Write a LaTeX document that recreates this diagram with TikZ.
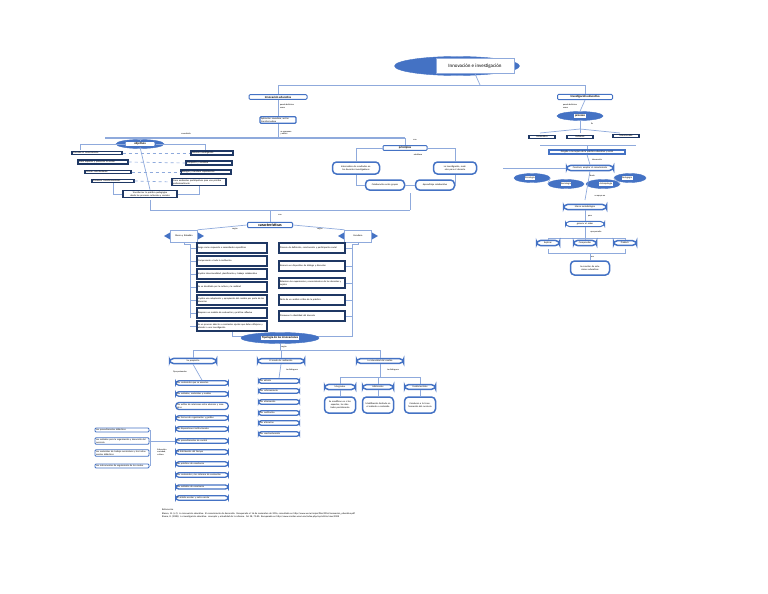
\documentclass[tikz,border=0pt]{standalone}
\usepackage{fontspec}
\setmainfont{Carlito}
\usetikzlibrary{shapes.geometric,positioning}
\definecolor{bl}{HTML}{4472C4}
\definecolor{nv}{HTML}{1F3864}
\definecolor{ln}{HTML}{8FAADC}
\tikzset{
 tx/.style={font=\fontsize{2.4}{2.8}\selectfont,align=left},
 lbl/.style={font=\fontsize{2.2}{2.6}\selectfont,align=left,inner sep=0pt},
 bx/.style={tx,draw=bl,line width=0.8pt,fill=white,rounded corners=1pt,inner sep=1pt,text width=#1},
 bx/.default=50pt,
 dbx/.style={tx,draw=nv,line width=1.2pt,fill=white,inner sep=1pt,text width=#1},
 dbx/.default=50pt,
 rbx/.style={tx,draw=bl,line width=1.5pt,fill=white,rounded corners=4pt,inner sep=1.5pt,text width=#1,align=center},
 rbx/.default=40pt,
 el/.style={ellipse,fill=bl,draw=bl,minimum width=#1,minimum height=9pt,inner sep=0pt},
 el/.default=40pt,
 hd/.style={tx,font=\fontsize{3}{3.5}\selectfont\bfseries,draw=bl,line width=1pt,fill=white,inner sep=1.2pt,rounded corners=1pt},
 cn/.style={draw=ln,line width=0.7pt},
}
\begin{document}
\begin{tikzpicture}[x=1pt,y=-1pt]
\useasboundingbox (0,0) rectangle (768,594);
% ---------- Title
\node[el=125pt,minimum height=19pt] (te) at (457,66) {};
\node[tx,font=\fontsize{5}{6}\selectfont,fill=white,minimum width=78pt,minimum height=15pt,draw=ln] (title) at (475,66) {Innovación e investigación};
\coordinate (tj) at (480,85);
\draw[cn] (title.south) -- (tj);
\draw[cn] (278,85) -- (585,85);
% ---------- Innovación educativa
\node[hd,minimum width=58pt] (ie) at (278,97) {Innovación educativa};
\draw[cn] (278,85) -- (ie.north);
\node[lbl] (l1) at (287,106) {puede definirse\\como};
\node[bx=34pt,line width=1.2pt] (ap) at (278,120) {Aplicación novedosa, acción transformadora};
\draw[cn] (ie.south) -- (ap.north);
\node[lbl] (l2) at (286,133) {se compone\\y utiliza};
\draw[cn] (ap.south) -- (278,138);
\draw[cn,line width=1.2pt] (105,138) -- (405,138);
\node[lbl] (l3) at (186,134) {concebida};
\node[lbl] (l4) at (415,140) {son};
% ---------- objetivos
\node[el=48pt] (obe) at (140,144) {};
\node[hd,minimum width=30pt] (ob) at (140,144) {objetivos};
\draw[cn] (140,138) -- (ob.north);
\draw[cn] (ob.west) -- (80,144) -- (80,150);
\draw[cn] (ob.east) -- (205,144) -- (205,150);
\node[dbx=48pt] (o1) at (97,153) {Concebir el conocimiento};
\node[dbx=48pt] (o2) at (103,162) {Crear espacios y potenciar la acción};
\node[dbx=44pt] (o3) at (108,172) {Formar colectividades};
\node[dbx=40pt] (o4) at (113,181) {Promover transformaciones};
\node[dbx=40pt] (o5) at (212,153) {Generar investigación};
\node[dbx=44pt] (o6) at (209,163) {Compartir y socializar};
\node[dbx=48pt] (o7) at (206,172) {Recoger y transferir experiencias};
\node[dbx=52pt] (o8) at (199,182) {Crear ambientes participativos para una práctica profesionalizante};
\node[dbx=52pt,line width=1.8pt,align=center] (o9) at (150,194) {Transformar la práctica pedagógica desde los procesos culturales y sociales};
\draw[cn] (ob.south) -- (o9.north);
\foreach \a/\b in {o1/o5,o2/o6,o3/o7,o4/o8}{\draw[cn,dashed] (\a.east) -- (\b.west);}
\draw[cn] (o4.south) |- (o9.west);
\draw[cn] (o8.south) |- (o9.east);
% ---------- principios
\node[hd,minimum width=44pt] (pr) at (405,148) {principios};
\draw[cn] (405,138) -- (pr.north);
\node[lbl] (l5) at (418,155) {establece};
\node[rbx=44pt,minimum height=12pt] (p1) at (356,168) {Intercambio de resultados entre docentes investigadores};
\node[rbx=40pt,minimum height=12pt] (p2) at (455,168) {La investigación, modelos para el docente};
\node[rbx=36pt,minimum height=10pt] (p3) at (385,185) {Colaboración entre grupos};
\node[rbx=36pt,minimum height=10pt] (p4) at (435,185) {Aprendizaje colaborativo};
\draw[cn] (pr.west) -| (p1.north);
\draw[cn] (pr.east) -| (p2.north);
\draw[cn] (p1.south) |- (p3.west);
\draw[cn] (p2.south) |- (p4.east);
\draw[cn] (p3) -- (p4);
\draw[cn] (410,193) -- (410,210);
% ---------- características
\draw[cn] (150,210) -- (410,210);
\draw[cn] (150,200) -- (150,210);
\node[lbl] (l6) at (280,215) {son};
\node[hd,font=\fontsize{4}{5}\selectfont\bfseries,minimum width=45pt] (ca) at (270,225) {características};
\draw[cn] (270,210) -- (ca.north);
\node[lbl] (l7) at (235,229) {según};
\node[lbl] (l8) at (320,229) {según};
\node[fill=bl,regular polygon,regular polygon sides=3,shape border rotate=90,minimum size=12pt,inner sep=0pt] (tl) at (170,236) {};
\node[fill=bl,regular polygon,regular polygon sides=3,shape border rotate=-90,minimum size=12pt,inner sep=0pt] (tr) at (198,236) {};
\node[tx,draw=ln,fill=white,text width=20pt,align=center,minimum height=12pt] (rr) at (184,236) {Rivera y Rabadán};
\node[fill=bl,regular polygon,regular polygon sides=3,shape border rotate=90,minimum size=12pt,inner sep=0pt] (tl2) at (344,236) {};
\node[fill=bl,regular polygon,regular polygon sides=3,shape border rotate=-90,minimum size=12pt,inner sep=0pt] (tr2) at (372,236) {};
\node[tx,draw=ln,fill=white,text width=20pt,align=center,minimum height=12pt] (es) at (358,236) {Escudero};
\draw[cn] (ca.west) -- (rr.north east);
\draw[cn] (ca.east) -- (es.north west);
\draw[cn] (rr.south) -- (184,244) -- (190,244) -- (190,318);
\draw[cn] (es.south) -- (358,244) -- (352,244) -- (352,318);
\foreach \i/\y/\t in {
 a/248/{Surge como respuesta a necesidades específicas},
 b/261/{Compromete a toda la institución},
 c/274/{Implica intencionalidad, planificación y trabajo colaborativo},
 d/287/{Se ve desafiada por la cultura y la realidad},
 e/300/{Implica una adaptación y apropiación del cambio por parte de los docentes},
 f/313/{Requiere un modelo de evaluación y práctica reflexiva},
 g/326/{Es un proceso abierto a constantes ajustes que debe reflejarse y atender a una investigación}}{
 \node[dbx=68pt,minimum height=10pt] (L\i) at (232,\y) {\t};
 \draw[cn] (190,\y) -- (L\i.west);
}
\foreach \i/\y/\t in {
 a/248/{Proceso de definición, construcción y participación social},
 b/266/{Enmarca un dispositivo de diálogo y discusión},
 c/283/{Relaciona las experiencias y conocimientos de los docentes y sujetos},
 d/300/{Parte de un análisis crítico de la práctica},
 e/316/{Promueve la identidad del docente}}{
 \node[dbx=64pt,minimum height=10pt] (R\i) at (312,\y) {\t};
 \draw[cn] (352,\y) -- (R\i.east);
}
\draw[cn] (232,332) -- (232,336) -- (352,336) -- (352,318);
% ---------- Tipología
\node[el=78pt,minimum height=11pt] (tpe) at (280,338) {};
\node[tx,font=\fontsize{3}{3.5}\selectfont\bfseries,fill=white,inner sep=1pt] (tp) at (280,338) {Tipología de las innovaciones};
\node[lbl] (l9) at (284,347) {según};
\draw[cn] (tpe.south) -- (280,350);
\draw[cn,line width=1pt] (193,350) -- (380,350);
\coordinate (hz) at (0,350);
\node[rbx=44pt] (s1) at (193,361) {Su propósito};
\node[rbx=44pt] (s2) at (281,361) {El modo de realización};
\node[rbx=44pt] (s3) at (380,361) {La intensidad del cambio};
\foreach \s in {s1,s2,s3}{\draw[cn] (\s.north|-hz) -- (\s.north);}
\node[lbl] (l10) at (180,372) {Que pretenden};
\node[lbl] (l11) at (292,370) {Le distinguen};
\node[lbl] (l12) at (393,370) {Le distinguen};
% left column
\foreach \i/\y/\t in {
 1/383/{Los contenidos que se enseñan},
 2/394/{Los métodos, materiales y medios},
 3/406/{Los estilos de relaciones entre alumnos y maestros},
 4/418/{Las formas de organización y gestión},
 5/429/{Las disposiciones institucionales},
 6/441/{Los procedimientos de control},
 7/452/{La distribución del tiempo},
 8/464/{Las prácticas de enseñanza},
 9/475/{Los contenidos y los sistemas de evaluación},
 10/487/{Los métodos de enseñanza},
 11/498/{El ámbito escolar y extra escolar}}{
 \node[rbx=50pt,align=left,line width=1.3pt,rounded corners=3pt,inner sep=1.2pt] (C\i) at (202,\y) {\t};
}
\draw[cn] (s1.south) -- (C1.north);
% middle
\foreach \i/\y/\t in {1/381/{Por adición},2/391/{Por reforzamiento},3/402/{Por eliminación},4/413/{Por sustitución},5/423/{Por alteración},6/434/{Por reestructuración}}{
 \node[rbx=38pt,align=left,line width=1.3pt,rounded corners=3pt] (M\i) at (279,\y) {\t};
}
\draw[cn] (s2.south) -- (M1.north);
% right
\draw[cn] (s3.south) -- (380,377);
\draw[cn,line width=1pt] (340,377) -- (420,377);
\coordinate (hz2) at (0,377);
\node[rbx=28pt] (I1) at (340,387) {Marginales};
\node[rbx=28pt] (I2) at (378,387) {Adicionales};
\node[rbx=28pt] (I3) at (420,387) {Fundamentales};
\node[rbx=28pt,minimum height=16pt] (J1) at (340,405) {Se modifican en sí los aspectos, los afectados parcialmente};
\node[rbx=28pt,minimum height=16pt] (J2) at (378,405) {Modificación limitada en el método o contenido};
\node[rbx=28pt,minimum height=16pt] (J3) at (420,405) {Conducen a la transformación del currículo};
\foreach \k in {1,2,3}{\draw[cn] (I\k.north|-hz2) -- (I\k.north); \draw[cn] (I\k) -- (J\k);}
% left side list
\node[bx=52pt] (X1) at (122,430) {Los procedimientos didácticos};
\node[bx=52pt] (X2) at (122,441) {Los métodos para la organización y desarrollo del currículo};
\node[bx=52pt] (X3) at (122,453) {Los materiales de trabajo curriculares y los instrumentos didácticos};
\node[bx=52pt] (X4) at (122,466) {Los instrumentos de seguimiento de los niveles};
\node[lbl] (l13) at (162,452) {Educación\\sociedad,\\cultura};
\coordinate (vx) at (150,0);
\draw[cn] (C6.west) -- (C6.west -| vx);
\draw[cn] (150,430) -- (150,466);
\foreach \k in {1,2,3,4}{\draw[cn] (X\k.east) -- (X\k.east -| vx);}
% ---------- Investigación educativa
\node[hd,minimum width=55pt] (inv) at (585,97) {Investigación educativa};
\draw[cn] (585,85) -- (inv.north);
\node[lbl] (l14) at (570,106) {puede definirse\\como};
\node[el=46pt] (pre) at (580,116) {};
\node[tx,fill=white,inner sep=0.8pt,font=\fontsize{3}{3.5}\selectfont\bfseries] (pro) at (580,116) {proceso};
\draw[cn] (inv.south) -- (pre.north);
\node[lbl] (l15) at (592,124) {Es};
\draw[cn] (pre.south) -- (580,129);
\draw[cn] (580,129) -- (540,133); \draw[cn] (580,129) -- (620,133); \draw[cn] (580,129) -- (580,133);
\node[dbx=24pt,align=center] (a1) at (542,137) {Sistemático};
\node[dbx=24pt,align=center] (a2) at (580,137) {Reflexivo};
\node[dbx=24pt,align=center] (a3) at (626,136) {Intencionado};
\draw[cn] (540,145) -- (636,145);
\node[dbx=74pt,align=center,draw=bl] (dm) at (587,152) {Dirigido a la mejora de la práctica educativa y social};
\draw[cn] (587,145) -- (dm.north);
\node[lbl] (l16) at (597,160) {interacción};
\node[rbx=44pt] (ca2) at (590,168) {Construir, ampliar el conocimiento};
\draw[cn] (dm.south) -- (ca2.north);
\draw[cn] (ca2.west) -- (503,168);
\node[lbl] (l17) at (592,176) {desde};
\node[el=36pt] (e1) at (532,178) {};
\node[tx,fill=white,inner sep=0.5pt] (e1t) at (530,178) {Psicología};
\node[el=36pt] (e2) at (566,184) {};
\node[tx,fill=white,inner sep=0.5pt] (e2t) at (566,184) {Sociología};
\node[el=34pt] (e3) at (603,184) {};
\node[tx,fill=white,inner sep=0.5pt] (e3t) at (606,184) {Antropología};
\node[el=32pt] (e4) at (630,178) {};
\node[tx,fill=white,inner sep=0.5pt] (e4t) at (627,178) {Pedagogía};
\draw[cn] (e1.east) -- (e2.west);
\draw[cn] (e4.west) -- (e3.east);
\draw[cn] (ca2.south) -- (585,200);
\node[lbl] (l18) at (600,196) {se apoya en};
\node[rbx=40pt] (mm) at (585,207) {Marco metodológico};
\node[lbl] (l19) at (590,216) {para};
\node[rbx=36pt,line width=1pt] (gs) at (585,224) {generar el saber};
\draw[cn] (mm) -- (gs);
\node[lbl] (l20) at (596,232) {que permite};
\draw[cn] (gs.south) -- (585,238);
\draw[cn] (548,238) -- (625,238);
\coordinate (hz3) at (0,238);
\node[rbx=20pt] (b1) at (548,243) {Explicar};
\node[rbx=20pt] (b2) at (585,243) {Comprender};
\node[rbx=20pt] (b3) at (625,243) {Predecir};
\foreach \k in {1,2,3}{\draw[cn] (b\k.north|-hz3) -- (b\k.north);}
\draw[cn] (548,249) -- (548,253) -- (625,253) -- (625,249);
\node[lbl] (l21) at (592,257) {para};
\node[rbx=36pt,minimum height=14pt] (cs) at (590,268) {la creación de soluciones educativas};
\draw[cn] (590,253) -- (cs.north);
% ---------- References
\node[lbl,anchor=north west,font=\fontsize{2.4}{3}\selectfont,text width=240pt] (ref) at (162,509) {Referencias\\[0.5pt]
Blanco, M. (s.f.). La innovación educativa: El conocimiento de desarrollo. Recuperado el 16 de noviembre de 2016, consultado en http://www.uv.mx/rmipe/files/2016/innovacion\_educativa.pdf\\
Rivera, R. (2008). La investigación educativa: concepto y actualidad de la reforma. Fol 38, 72-80. Recuperado en http://www.revistas.unam.mx/index.php/rep/article/view/2008};
\end{tikzpicture}
\end{document}
